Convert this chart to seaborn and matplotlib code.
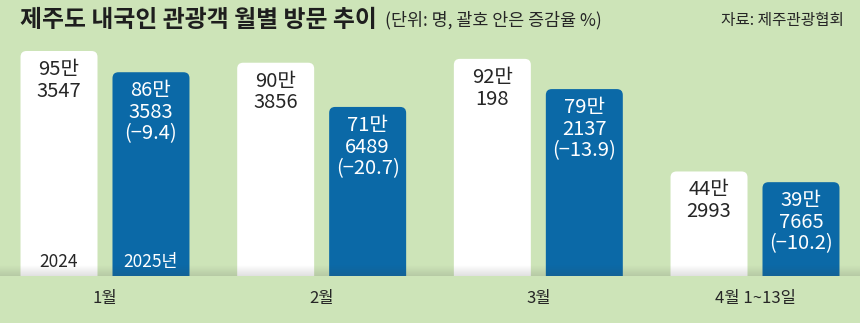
import numpy as np
import pandas as pd
import matplotlib
matplotlib.use("Agg")
import matplotlib.pyplot as plt
from matplotlib.patches import FancyBboxPatch
import seaborn as sns

# Monthly domestic visitors to Jeju (persons) and year-on-year change (%)
months = ["1월", "2월", "3월", "4월 1~13일"]
visitors_2024 = [953547, 903856, 920198, 442993]
visitors_2025 = [863583, 716489, 792137, 397665]
change_pct = [-9.4, -20.7, -13.9, -10.2]
years = ["2024", "2025"]

BG = "#cde4b8"
BLUE = "#0b69a7"
DARK = "#262626"

sns.set_theme(style="white")
plt.rcParams["font.family"] = ["Noto Sans CJK KR", "DejaVu Sans"]

df = pd.DataFrame({
    "month": months * 2,
    "year": [years[0]] * len(months) + [years[1]] * len(months),
    "visitors": visitors_2024 + visitors_2025,
})

W, H = 860, 323
fig = plt.figure(figsize=(W / 100, H / 100), dpi=100, facecolor=BG)

# axes: baseline 47 px above the bottom, plot area up to 40 px below the top
px_per_unit = 216.67
XL, XR = -0.4846, 3.4846
plot_h = H - 47 - 40
ax = fig.add_axes([0, 47 / H, 1, plot_h / H])
ax.set_facecolor("none")

sns.barplot(data=df, x="month", y="visitors", hue="year",
            palette={years[0]: "white", years[1]: BLUE},
            width=0.849, gap=0.163, legend=False, ax=ax, saturation=1,
            linewidth=0, errorbar=None)

ymax = 953547 / 225 * plot_h
ypp = ymax / plot_h  # data units per pixel (vertical)
ax.set_ylim(0, ymax)
ax.set_xlim(XL, XR)
ax.axis("off")

# rounded tops: y data per pixel / x data per pixel keeps corners circular
aspect = ypp * px_per_unit
radius = 6 / px_per_unit

for cont, col in zip(ax.containers, ["white", BLUE]):
    for bar in cont:
        x, w, h = bar.get_x(), bar.get_width(), bar.get_height()
        bar.set_visible(False)
        extra = radius * aspect * 2
        rb = FancyBboxPatch((x, -extra), w, h + extra,
                            boxstyle=f"round,pad=0,rounding_size={radius}",
                            mutation_aspect=aspect, facecolor=col,
                            edgecolor="none", zorder=2)
        ax.add_patch(rb)

# soft shadow band along the baseline
band_h = 11 * ypp
grad = np.zeros((32, 2, 4))
grad[..., :3] = 0.25
grad[..., 3] = np.linspace(0.0, 0.16, 32)[:, None]
ax.imshow(grad, extent=(XL, XR, 0, band_h), origin="upper",
          aspect="auto", zorder=3, interpolation="bilinear")
ax.set_xlim(XL, XR)
ax.set_ylim(0, ymax)

# value labels inside bars
off = 8 * ypp
c24, c25 = ax.containers[0], ax.containers[1]
for i in range(len(months)):
    b = c24[i]
    xc = b.get_x() + b.get_width() / 2
    v = visitors_2024[i]
    ax.text(xc, v - off, f"{v // 10000}만\n{v % 10000}", ha="center", va="top",
            fontsize=14.5, color=DARK, linespacing=1.04, zorder=4)
    b = c25[i]
    xc = b.get_x() + b.get_width() / 2
    v = visitors_2025[i]
    label = f"{v // 10000}만\n{v % 10000}\n({change_pct[i]:.1f})".replace("-", "\u2212")
    ax.text(xc, v - off, label, ha="center", va="top", fontsize=14.5,
            color="white", linespacing=1.04, zorder=4)

# year labels at the foot of the first group
bot = 14 * ypp
b = c24[0]
ax.text(b.get_x() + b.get_width() / 2, bot, "2024", ha="center", va="center",
        fontsize=12.5, color=DARK, zorder=4)
b = c25[0]
ax.text(b.get_x() + b.get_width() / 2, bot, "2025년", ha="center", va="center",
        fontsize=12.5, color="white", zorder=4)

# month labels under the baseline
for i, m in enumerate(months):
    ax.text(i, -22 * ypp, m, ha="center", va="center",
            fontsize=12, color=DARK, clip_on=False)

fig.text(20 / W, 1 - 20 / H, "제주도 내국인 관광객 월별 방문 추이", ha="left", va="center",
         fontsize=17.2, fontweight="bold", color="#1e1e1e")
fig.text(385 / W, 1 - 20 / H, "(단위: 명, 괄호 안은 증감율 %)", ha="left", va="center",
         fontsize=12.5, color=DARK)
fig.text(844 / W, 1 - 20 / H, "자료: 제주관광협회", ha="right", va="center",
         fontsize=11.3, color=DARK)

fig.savefig("out.png", dpi=100, facecolor=BG)
